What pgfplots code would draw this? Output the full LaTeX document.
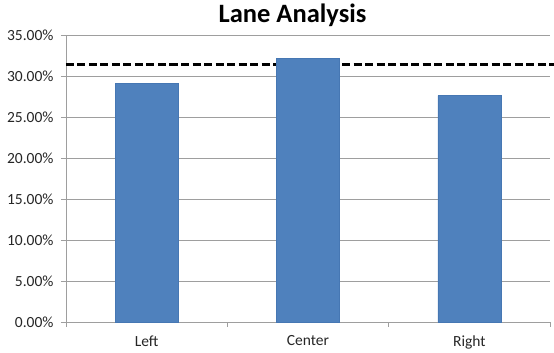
\documentclass[border=0pt]{standalone}
\usepackage{pgfplots}
\pgfplotsset{compat=1.18}
\usepackage{fontspec}
\setmainfont{Carlito}
\definecolor{barblue}{HTML}{4F81BD}
\definecolor{bardraw}{HTML}{4677B3}
\definecolor{gridgray}{HTML}{9E9E9E}
\begin{document}
\begin{tikzpicture}
\useasboundingbox (-66pt,-31pt) rectangle (488pt,322pt);
\begin{axis}[
  at={(0,0)}, anchor=south west,
  scale only axis, width=484pt, height=287pt,
  xmin=-0.5, xmax=2.5, ymin=0, ymax=35,
  axis x line*=bottom, axis y line*=left,
  axis line style={draw=gridgray, line width=0.8pt},
  xtick={-0.5,0.5,1.5,2.5},
  x tick label as interval,
  xticklabels={Left,Center,Right},
  ytick={0,5,...,35},
  ymajorgrids, grid style={draw=gridgray, line width=0.8pt},
  tick align=outside, major tick length=5pt,
  tick style={draw=gridgray, line width=0.8pt},
  /pgf/number format/assume math mode=true,
  yticklabel={\pgfmathprintnumber[fixed,fixed zerofill,precision=2]{\tick}\%},
  ticklabel style={font=\fontsize{15.5}{18}\selectfont, text=black!85},
  yticklabel style={xshift=-4pt},
  xticklabel style={yshift=-5pt},
  clip=false,
]
\addplot[black, line width=2.6pt, dash pattern=on 8pt off 3.5pt] coordinates {(-0.5,31.4) (2.53,31.4)};
\addplot[ybar, bar width=63pt, bar shift=0pt, fill=barblue, draw=bardraw, line width=0.6pt] coordinates {(0,29.1) (1,32.1) (2,27.6)};
\end{axis}
\node[anchor=base, font=\fontsize{26.5}{30}\selectfont\bfseries] at (226.5pt,299pt) {Lane Analysis};
\end{tikzpicture}
\end{document}
